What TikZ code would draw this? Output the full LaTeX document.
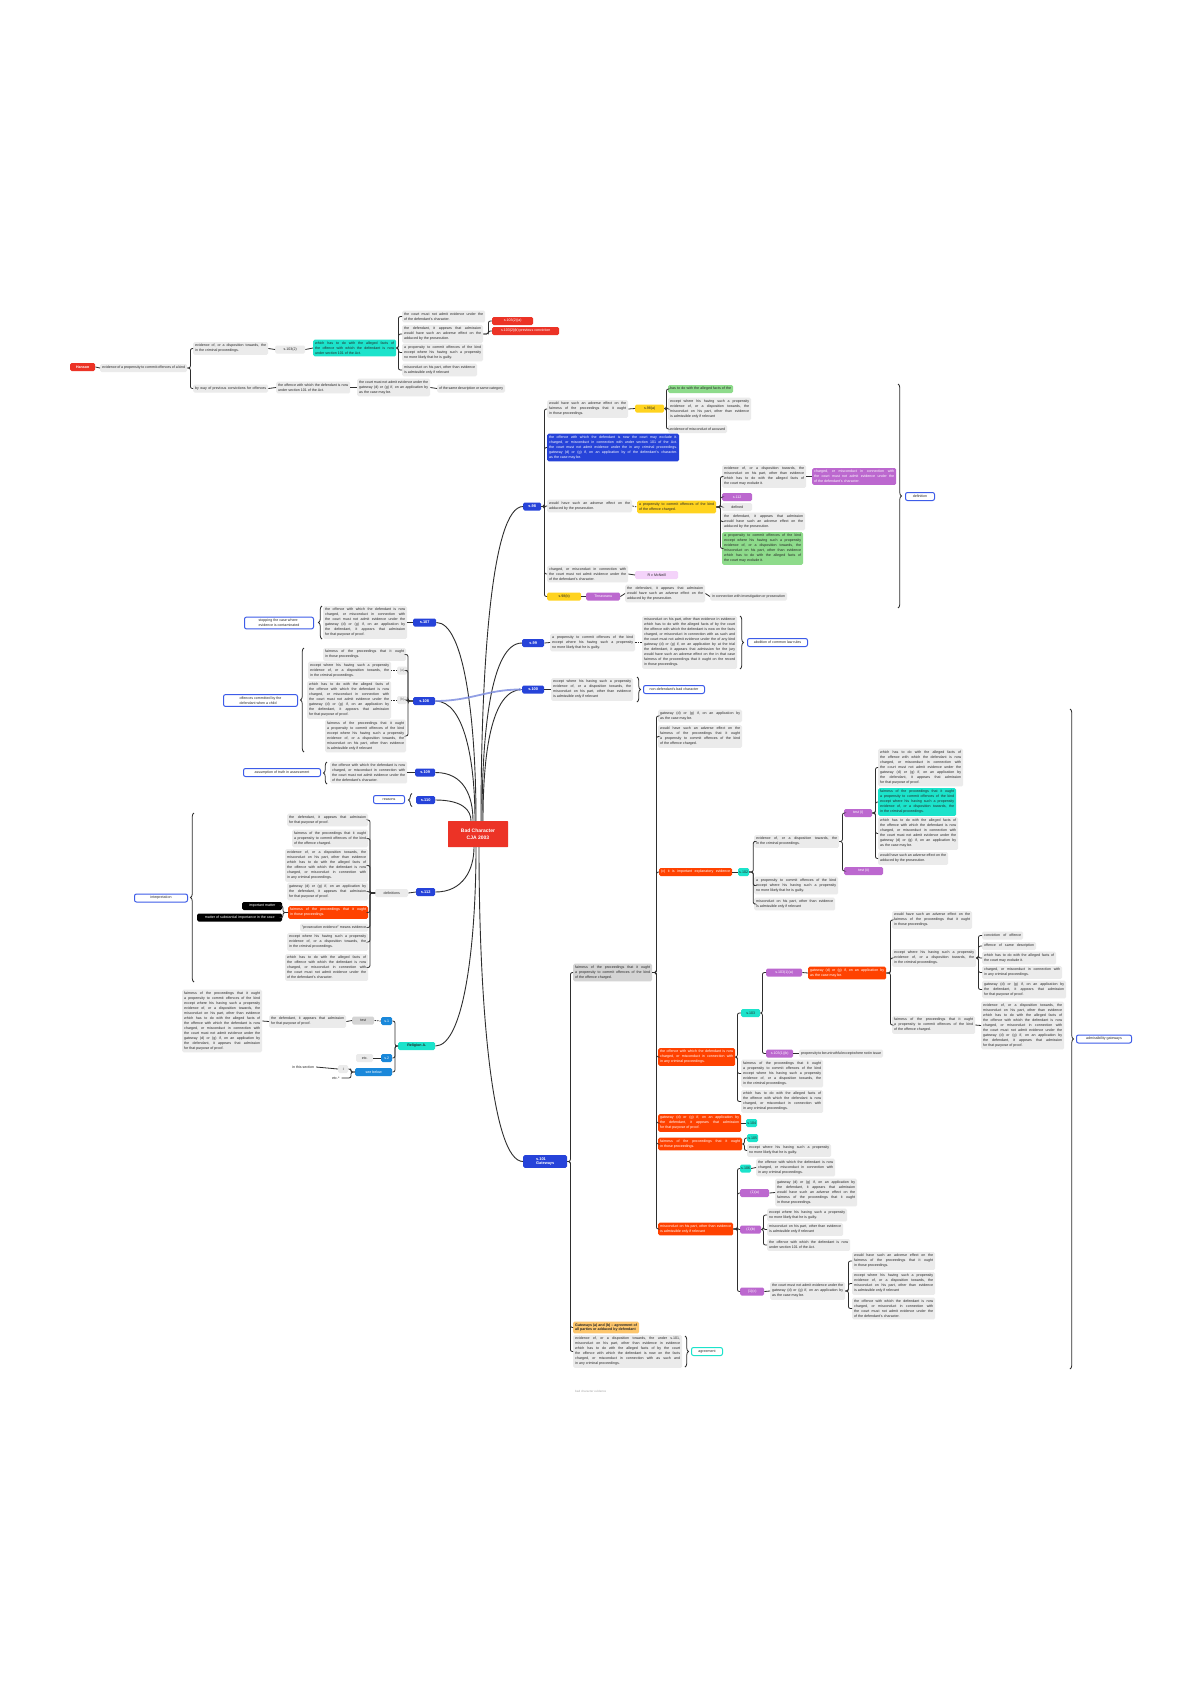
\documentclass[tikz,border=0pt]{standalone}
\usepackage{fontspec}
\setmainfont{Liberation Sans}
\usetikzlibrary{decorations.pathreplacing,arrows.meta}
\frenchspacing
\definecolor{cGy}{HTML}{EBEBEB}
\definecolor{cGd}{HTML}{D4D4D4}
\definecolor{cRd}{HTML}{EC3326}
\definecolor{cOr}{HTML}{FF4200}
\definecolor{cBl}{HTML}{2643D9}
\definecolor{cOl}{HTML}{3D5CE8}
\definecolor{cTl}{HTML}{1CE3CB}
\definecolor{cPu}{HTML}{BC68CF}
\definecolor{cYe}{HTML}{FFD31F}
\definecolor{cGn}{HTML}{8EDB8B}
\definecolor{cLi}{HTML}{F4D3FA}
\definecolor{cCb}{HTML}{1A88DA}
\definecolor{cYo}{HTML}{FDC66C}
\definecolor{cLn}{HTML}{2E2E2E}
\definecolor{cLav}{HTML}{7F8FE0}
\definecolor{cTx}{HTML}{262626}

\expandafter\def\csname ph1\endcsname{evidence of, or a disposition towards, the}
\expandafter\def\csname ph2\endcsname{misconduct on his part, other than evidence}
\expandafter\def\csname ph3\endcsname{which has to do with the alleged facts of}
\expandafter\def\csname ph4\endcsname{the offence with which the defendant is now}
\expandafter\def\csname ph5\endcsname{charged, or misconduct in connection with}
\expandafter\def\csname ph6\endcsname{the court must not admit evidence under the}
\expandafter\def\csname ph7\endcsname{gateway (d) or (g) if, on an application by}
\expandafter\def\csname ph8\endcsname{the defendant, it appears that admission}
\expandafter\def\csname ph9\endcsname{would have such an adverse effect on the}
\expandafter\def\csname ph10\endcsname{fairness of the proceedings that it ought}
\expandafter\def\csname ph11\endcsname{a propensity to commit offences of the kind}
\expandafter\def\csname ph12\endcsname{except where his having such a propensity}
\expandafter\def\csname qh1\endcsname{no more likely that he is guilty.}
\expandafter\def\csname qh2\endcsname{in the criminal proceedings.}
\expandafter\def\csname qh3\endcsname{is admissible only if relevant}
\expandafter\def\csname qh4\endcsname{the court may exclude it.}
\expandafter\def\csname qh5\endcsname{under section 101 of the Act.}
\expandafter\def\csname qh6\endcsname{in any criminal proceedings.}
\expandafter\def\csname qh7\endcsname{of the defendant's character.}
\expandafter\def\csname qh8\endcsname{as the case may be.}
\expandafter\def\csname qh9\endcsname{for that purpose of proof.}
\expandafter\def\csname qh10\endcsname{adduced by the prosecution.}
\expandafter\def\csname qh11\endcsname{in those proceedings.}
\expandafter\def\csname qh12\endcsname{of the offence charged.}
\expandafter\def\csname rh1\endcsname{under s.101,}
\expandafter\def\csname rh2\endcsname{in evidence}
\expandafter\def\csname rh3\endcsname{by the court}
\expandafter\def\csname rh4\endcsname{on the facts}
\expandafter\def\csname rh5\endcsname{as such and}
\expandafter\def\csname rh6\endcsname{of any kind}
\expandafter\def\csname rh7\endcsname{at the trial}
\expandafter\def\csname rh8\endcsname{for the jury}
\expandafter\def\csname rh9\endcsname{in that case}
\expandafter\def\csname rh10\endcsname{on the record}
\expandafter\def\csname rh11\endcsname{or otherwise}
\expandafter\def\csname rh12\endcsname{to the issue}

\newcount\pcnt \newcount\lcnt
\newcommand\nextph{\global\advance\pcnt by 1 \ifnum\pcnt>12 \global\pcnt=1 \fi}
\newcommand\phr{\csname ph\number\pcnt\endcsname}
\newcommand\qhr{\csname qh\number\pcnt\endcsname}
\newcommand\rhr{\csname rh\number\pcnt\endcsname}
\newcommand\FL[1]{\hbox to\hsize{\spaceskip=0.95pt plus 1fill minus 0.5pt\relax #1}}
\newcommand\TXT[3]{\vbox{\hsize=#1pt \lcnt=1
  \loop\ifnum\lcnt<#2 \nextph\FL{\ifcase#3 \phr\or\phr\ \rhr\or\phr\ \qhr\fi}\advance\lcnt by 1 \repeat
  \nextph\hbox{\qhr}}}

\tikzset{
  x=1pt,y=-1pt,
  base/.style={font=\fontsize{3.6}{5}\selectfont, inner xsep=2pt, inner ysep=2.1pt,
    rounded corners=1.5pt, anchor=west, text=cTx, minimum height=8pt},
  g/.style={base, fill=cGy},
  gd/.style={base, fill=cGd},
  rd/.style={base, fill=cRd, text=white},
  or/.style={base, fill=cOr, text=white},
  bl/.style={base, fill=cBl, text=white, font=\fontsize{3.9}{4.8}\selectfont\bfseries},
  blt/.style={base, fill=cBl, text=white},
  ob/.style={base, draw=cOl, line width=1pt, fill=white, rounded corners=2pt},
  tl/.style={base, fill=cTl},
  pu/.style={base, fill=cPu, text=white},
  ye/.style={base, fill=cYe},
  gn/.style={base, fill=cGn},
  li/.style={base, fill=cLi},
  cb/.style={base, fill=cCb, text=white},
  yo/.style={base, fill=cYo, font=\fontsize{3.6}{4.4}\selectfont\bfseries},
  bk/.style={base, fill=black, text=white},
  ot/.style={base, draw=cTl, line width=1pt, fill=white, rounded corners=2pt},
  pl/.style={base, fill=none},
  ln/.style={draw=cLn, line width=0.8pt, rounded corners=2pt},
  dsh/.style={ln, dash pattern=on 1.5pt off 1pt},
  cv/.style={draw=cLn, line width=0.9pt},
  br/.style={draw=cLn, line width=0.8pt, decorate, decoration={brace, amplitude=3.5pt, aspect=0.5}},
  lav/.style={draw=cLav, line width=1.8pt, opacity=0.85, -{Stealth[length=3pt,width=3pt]}},
}
\newcommand\GN[6]{\node[#1] (#2) at (#3,#4) {\TXT{#5}{#6}{0}};}
\newcommand\FN[6]{\node[#1] (#2) at (#3,#4) {\hbox to #5pt{\spaceskip=0.95pt plus 1fill minus 0.5pt\relax #6}};}
\newcommand\SN[6]{\node[#1, minimum width=#5pt, inner xsep=1pt, align=center] (#2) at (#3,#4) {#6};}
\newcommand\RE[3]{\draw[ln] (#1.east) -- ++(#3,0) |- (#2.west);}
\newcommand\LE[3]{\draw[ln] (#1.west) -- ++(-#3,0) |- (#2.east);}
\newcommand\SL[2]{\draw[ln] (#1.east) -- (#2.west);}
\newcommand\SLL[2]{\draw[ln] (#1.west) -- (#2.east);}

\begin{document}
\begin{tikzpicture}
\fill[white] (0,0) rectangle (1200,1697);
\useasboundingbox (0,0) rectangle (1200,1697);

% ---------------- top-left floating tree
\SN{rd}{hroot}{70}{367}{25}{\bfseries Hanson}
\FN{g}{tl1}{100}{368}{83}{evidence of a propensity to commit offences of a kind}
\GN{g}{tl2}{193}{348.5}{71}{2}
\SN{g}{tl3}{275}{349.5}{30}{s.103(2)}
\GN{tl}{tl4}{313}{348}{79}{3}
\GN{g}{tl5}{402}{316.5}{79}{2}
\GN{g}{tl6}{402}{334}{77}{3}
\GN{g}{tl7}{402}{352.5}{77}{3}
\GN{g}{tl8}{402}{370}{71}{2}
\SN{rd}{tl9}{492}{321}{41}{s.103(2)(a)}
\SN{rd}{tl10}{492}{331}{67}{s.103(2)(b) previous conviction}
\FN{g}{tl11}{193}{388.5}{71}{by way of previous convictions for offences}
\GN{g}{tl12}{276}{387.5}{70}{2}
\GN{g}{tl13}{357}{387.5}{69}{3}
\FN{g}{tl14}{437}{388.5}{64}{of the same description or same category}
\SL{hroot}{tl1}
\RE{tl1}{tl2}{3} \RE{tl1}{tl11}{3}
\SL{tl2}{tl3} \SL{tl3}{tl4}
\RE{tl4}{tl5}{2} \RE{tl4}{tl6}{2} \RE{tl4}{tl7}{2} \RE{tl4}{tl8}{2}
\RE{tl6}{tl9}{5} \RE{tl6}{tl10}{5}
\SL{tl11}{tl12} \SL{tl12}{tl13} \SL{tl13}{tl14}

% ---------------- centre
\node[rd, font=\fontsize{5}{6.5}\selectfont\bfseries, align=center, minimum width=60pt,
  minimum height=26pt, anchor=center, rounded corners=0.5pt] (ctr) at (478,834) {Bad Character\\CJA 2003};

% ---------------- s.98
\SN{bl}{s98}{523}{506.5}{18}{s.98}
\GN{g}{r1}{547}{409}{77}{3}
\SN{ye}{r1y}{635}{408.5}{29}{s.98(a)}
\FN{gn}{r1a}{668}{389}{61}{has to do with the alleged facts of the}
\GN{g}{r1b}{668}{409}{79}{4}
\FN{g}{r1c}{668}{429}{55}{evidence of misconduct of accused}
\node[blt] (r2) at (547,447.5) {\TXT{128}{5}{2}};
\GN{g}{r3}{547}{506}{81}{2}
\GN{ye}{r3y}{637}{507}{75}{2}
\GN{g}{r3a}{722}{476.5}{80}{4}
\GN{pu}{r3ap}{812}{476.5}{80}{3}
\SN{pu}{r3b}{722}{497}{30}{s.112}
\SN{g}{r3c}{722}{507}{30}{defined}
\GN{g}{r3d}{722}{521.5}{79}{3}
\GN{gn}{r3e}{722}{548.5}{77}{6}
\GN{g}{r4}{547}{574}{77}{3}
\SN{li}{r4l}{635}{575}{43}{R v McNeill}
\SN{ye}{r5}{547}{596.5}{34}{s.98(b)}
\SN{pu}{r5p}{586}{596.5}{34}{Tirnaveanu}
\GN{g}{r5g}{625}{593.5}{76}{3}
\FN{g}{r5h}{710}{596.5}{73}{in connection with investigation or prosecution}
\RE{s98}{r1}{3} \RE{s98}{r2}{3} \RE{s98}{r3}{3} \RE{s98}{r4}{3} \RE{s98}{r5}{3}
\SL{r1}{r1y}
\RE{r1y}{r1a}{2} \RE{r1y}{r1b}{2} \RE{r1y}{r1c}{2}
\draw[dsh] (r3.east) -- (r3y.west);
\RE{r3y}{r3a}{4} \RE{r3y}{r3b}{4} \RE{r3y}{r3c}{4} \RE{r3y}{r3d}{4} \RE{r3y}{r3e}{4}
\SL{r3a}{r3ap}
\SL{r4}{r4l}
\SL{r5}{r5p} \SL{r5p}{r5g} \SL{r5g}{r5h}
\draw[br] (898,384) -- (898,608);
\SN{ob}{sum1}{905}{496.5}{29}{definition}

% ---------------- s.99
\SN{bl}{s99}{522}{643}{22}{s.99}
\GN{g}{g99}{550}{642.5}{81}{3}
\node[g] (g99b) at (642,642.5) {\TXT{91}{10}{1}};
\SL{s99}{g99}
\draw[dsh] (g99.east) -- (g99b.west);
\draw[br] (740,616) -- (740,669);
\SN{ob}{sum2}{747}{642.5}{60}{abolition of common law rules}

% ---------------- s.100
\SN{bl}{s100}{522}{689.5}{22}{s.100}
\GN{g}{g100}{551}{689.5}{78}{4}
\SL{s100}{g100}
\draw[br] (637,677) -- (637,702);
\SN{ob}{sum3}{643}{689.5}{61}{non-defendant's bad character}

% ---------------- s.107
\SN{bl}{s107}{413}{622.5}{23}{s.107}
\GN{g}{gL1}{323}{622.5}{80}{6}
\SLL{s107}{gL1}
\draw[br] (322,639) -- (322,606);
\node[ob, align=left, minimum width=69pt] (sumL1) at (244,623) {stopping the case where\\evidence is contaminated};

% ---------------- s.108
\SN{bl}{s108}{413}{701}{22}{s.108}
\GN{g}{gL2a}{323}{654.5}{79}{2}
\GN{g}{gL2b}{308}{670.5}{79}{3}
\SN{g}{gL2bs}{397}{670.5}{10}{\color{gray}(a)}
\GN{g}{gL2c}{307}{700}{80}{7}
\SN{g}{gL2cs}{397}{700}{10}{\color{gray}(b)}
\GN{g}{gL2d}{325}{736}{77}{6}
\LE{s108}{gL2a}{5} \LE{s108}{gL2bs}{5} \LE{s108}{gL2cs}{5} \LE{s108}{gL2d}{5}
\draw[dsh] (gL2bs.west) -- (gL2b.east);
\draw[dsh] (gL2cs.west) -- (gL2c.east);
\draw[br] (304,752) -- (304,648);
\node[ob, align=left, minimum width=74pt] (sumL2) at (223,700.5) {offences committed by the\\defendant when a child};

% ---------------- s.109
\SN{bl}{s109}{415}{772.5}{20}{s.109}
\GN{g}{gL3}{330}{772.5}{73}{4}
\SLL{s109}{gL3}
\draw[br] (327,784) -- (327,762);
\SN{ob}{sumL3}{243}{772.5}{77}{assumption of truth in assessment}

% ---------------- s.110
\SN{bl}{s110}{416}{800}{19}{s.110}
\draw[br] (412,806.5) -- (412,793.5);
\SN{ob}{sumL4}{373}{799.5}{31}{reasons}

% ---------------- s.112
\SN{bl}{s112}{416}{892}{19}{s.112}
\SN{g}{gL5s}{375}{893}{33}{definitions}
\SLL{s112}{gL5s}
\GN{g}{gL5a}{287}{820}{77}{2}
\GN{g}{gL5b}{292}{838.5}{72}{3}
\GN{g}{gL5c}{285}{865.5}{79}{6}
\GN{g}{gL5d}{287}{891.5}{77}{3}
\GN{or}{gL5e}{288}{912.5}{76}{2}
\FN{g}{gL5f}{300}{927.5}{64}{"prosecution evidence" means evidence}
\GN{g}{gL5g}{287}{942}{77}{3}
\GN{g}{gL5h}{285}{967.5}{79}{5}
\LE{gL5s}{gL5a}{5} \LE{gL5s}{gL5b}{5} \LE{gL5s}{gL5c}{5} \LE{gL5s}{gL5d}{5}
\LE{gL5s}{gL5e}{5} \LE{gL5s}{gL5f}{5} \LE{gL5s}{gL5g}{5} \LE{gL5s}{gL5h}{5}
\SN{bk}{bk1}{242}{906}{40}{important matter}
\SN{bk}{bk2}{197}{917.5}{85}{matter of substantial importance in the case}
\LE{gL5e}{bk1}{5} \LE{gL5e}{bk2}{5}
\draw[br] (194,982) -- (194,813);
\SN{ob}{sumL5}{134}{898}{53}{interpretation}

% ---------------- Religion A.
\SN{tl}{rel}{398}{1046}{37}{\bfseries Religion A.}
\SN{cb}{cb1}{381}{1021}{11}{s.1}
\SN{gd}{cbs1}{352}{1020.5}{22}{test}
\GN{g}{cbm}{269}{1021.5}{73}{2}
\GN{g}{cbig}{182}{1021}{76}{12}
\SN{cb}{cb2}{381}{1058}{11}{s.2}
\SN{g}{cb2a}{356}{1058}{17}{etc.}
\SN{cb}{cb3}{355}{1072}{37}{see below}
\SN{g}{cb3a}{338}{1069}{10}{i}
\node[pl] (cb3a2) at (290,1067) {in this section};
\node[pl] (cb3b) at (330,1078) {etc.*};
\LE{rel}{cb1}{3} \LE{rel}{cb2}{3} \LE{rel}{cb3}{3}
\draw[dsh] (cb1.west) -- (cbs1.east);
\SLL{cbs1}{cbm} \SLL{cbm}{cbig} \SLL{cb2}{cb2a}
\LE{cb3}{cb3a}{4} \LE{cb3}{cb3b}{4}
\SLL{cb3a}{cb3a2}

% ---------------- s.101 gateways
\node[bl, align=left, minimum width=44pt] (s101) at (523,1161.5) {s.101\\Gateways};
\GN{gd}{dg}{573}{972.5}{75}{3}
\node[yo, align=left] (yo) at (573,1327.5) {Gateways (a) and (b) -- agreement of\\all parties or adduced by defendant};
\node[g] (gb) at (573,1351.5) {\TXT{105}{6}{1}};
\draw[br] (685,1336) -- (685,1367);
\SN{ot}{sumB}{691}{1351.5}{31}{agreement}
\node[pl, text=black!35, font=\fontsize{3}{4}\selectfont] (foot) at (573,1391) {bad character evidence};
\RE{s101}{dg}{3} \RE{s101}{yo}{3} \RE{s101}{gb}{3}

\GN{g}{d1}{658}{716}{80}{2}
\GN{g}{d2}{658}{736.5}{80}{4}
\FN{or}{gc}{659}{872}{69}{(c) it is important explanatory evidence}
\SN{tl}{t102}{738}{872}{10}{s.102}
\GN{g}{c1}{754}{841.5}{81}{2}
\SN{pu}{c1p}{844}{813}{28}{test (i)}
\GN{g}{c1p1}{878}{767.5}{81}{7}
\GN{tl}{c1p2}{878}{802}{74}{5}
\GN{g}{c1p3}{878}{833.5}{76}{6}
\GN{g}{c1p4}{878}{858.5}{66}{2}
\SN{pu}{c1q}{844}{871}{39}{test (ii)}
\GN{g}{c2}{754}{885.5}{80}{3}
\GN{g}{c3}{754}{904}{77}{2}

\GN{or}{gd}{658}{1057}{73}{3}
\SN{tl}{t103}{741}{1013}{19}{s.103}
\SN{pu}{p1}{766}{972.5}{36}{s.103(1)(a)}
\GN{or}{r1o}{808}{973}{74}{2}
\GN{g}{e1}{892}{920}{76}{3}
\GN{g}{e2}{892}{958}{80}{3}
\FN{g}{f1}{982}{935.5}{37}{conviction of offence}
\FN{g}{f2}{982}{946}{50}{offence of same description}
\GN{g}{f3}{982}{958}{70}{2}
\GN{g}{f4}{982}{972.5}{76}{2}
\GN{g}{f5}{982}{989.5}{80}{3}
\GN{g}{e3}{892}{1025}{79}{3}
\GN{g}{f6}{981}{1025.5}{79}{9}
\SN{pu}{p2}{766}{1053.5}{27}{s.103(1)(b)}
\FN{g}{q2}{799}{1053.5}{80}{propensity to be untruthful except where not in issue}
\GN{g}{d3}{741}{1073.5}{78}{5}
\GN{g}{d4}{741}{1101.5}{78}{4}

\GN{or}{ge}{658}{1123}{79}{3}
\SN{tl}{t104}{746}{1123}{11}{s.104}
\GN{or}{gf}{658}{1144}{80}{2}
\SN{tl}{t105}{747}{1138}{11}{s.105}
\GN{g}{gf2}{747}{1150.5}{80}{2}

\GN{or}{gg}{658}{1229}{71}{2}
\SN{tl}{t106}{740}{1168.5}{10}{s.106}
\GN{g}{h1}{756}{1167.5}{75}{3}
\SN{pu}{p106a}{740}{1193}{29}{(1)(a)}
\GN{g}{h2}{775}{1192.5}{78}{5}
\SN{pu}{p106b}{740}{1229.5}{21}{(1)(b)}
\GN{g}{h3}{767}{1215}{76}{2}
\GN{g}{h4}{767}{1229.5}{72}{2}
\GN{g}{h5}{767}{1245}{79}{2}
\SN{pu}{p106c}{740}{1291.5}{24}{(1)(c)}
\GN{g}{h6}{770}{1291}{71}{3}
\GN{g}{h7}{852}{1261}{79}{3}
\GN{g}{h8}{852}{1283.5}{79}{4}
\GN{g}{h9}{852}{1308.5}{79}{4}

\RE{dg}{d1}{4} \RE{dg}{d2}{4} \RE{dg}{gc}{4} \RE{dg}{gd}{4} \RE{dg}{ge}{4} \RE{dg}{gf}{4} \RE{dg}{gg}{4}
\SL{gc}{t102}
\RE{t102}{c1}{4} \RE{t102}{c2}{4} \RE{t102}{c3}{4}
\RE{c1}{c1p}{3} \RE{c1}{c1q}{3}
\RE{c1p}{c1p1}{3} \RE{c1p}{c1p2}{3} \RE{c1p}{c1p3}{3} \RE{c1p}{c1p4}{3}
\RE{gd}{t103}{2} \RE{gd}{d3}{2} \RE{gd}{d4}{2}
\RE{t103}{p1}{2} \RE{t103}{p2}{2}
\SL{p1}{r1o} \SL{p2}{q2}
\RE{r1o}{e1}{4} \RE{r1o}{e2}{4} \RE{r1o}{e3}{4}
\RE{e2}{f1}{2} \RE{e2}{f2}{2} \RE{e2}{f3}{2} \RE{e2}{f4}{2} \RE{e2}{f5}{2}
\SL{e3}{f6}
\SL{ge}{t104}
\RE{gf}{t105}{2} \RE{gf}{gf2}{2}
\RE{gg}{t106}{4} \RE{gg}{p106a}{4} \RE{gg}{p106b}{4} \RE{gg}{p106c}{4}
\SL{t106}{h1} \SL{p106a}{h2} \SL{p106c}{h6}
\RE{p106b}{h3}{2} \RE{p106b}{h4}{2} \RE{p106b}{h5}{2}
\RE{h6}{h7}{3} \RE{h6}{h8}{3} \RE{h6}{h9}{3}

\draw[br] (1070,709) -- (1070,1369);
\SN{ob}{sumR}{1076}{1039}{55}{admissibility gateways}

% ---------------- curves from the centre
\draw[cv] ([xshift=3pt]ctr.north) .. controls +(0,-157) and +(-31,0) .. (s98.west);
\draw[cv] ([xshift=4pt]ctr.north) .. controls +(0,-89) and +(-31,0) .. (s99.west);
\draw[cv] ([xshift=5pt]ctr.north) .. controls +(0,-66) and +(-31,0) .. (s100.west);
\draw[cv] ([xshift=-2pt]ctr.north) .. controls +(0,-99) and +(28,0) .. (s107.east);
\draw[cv] ([xshift=-3pt]ctr.north) .. controls +(0,-60) and +(29,0) .. (s108.east);
\draw[cv] ([xshift=-5pt]ctr.north) .. controls +(0,-24) and +(29,0) .. (s109.east);
\draw[cv] ([xshift=-7pt]ctr.north) .. controls +(0,-10) and +(28,0) .. (s110.east);
\draw[cv] ([xshift=-4pt]ctr.south) .. controls +(0,22) and +(28,0) .. (s112.east);
\draw[cv] ([xshift=-2pt]ctr.south) .. controls +(0,100) and +(28,0) .. (rel.east);
\draw[cv] ([xshift=1pt]ctr.south) .. controls +(0,157) and +(-31,0) .. (s101.west);
\draw[lav] (s108.east) .. controls +(35,0) and +(-35,0) .. (s100.west);
\end{tikzpicture}
\end{document}
